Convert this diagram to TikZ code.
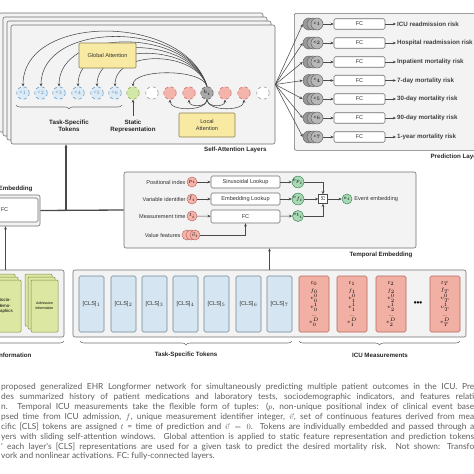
\documentclass[tikz,border=0pt]{standalone}
\usepackage{fontspec}
\setsansfont{Liberation Sans}
\newfontfamily\capfont{Lato}
\usetikzlibrary{arrows.meta,positioning,calc,decorations.pathreplacing}
\definecolor{panelfill}{HTML}{F3F3F3}
\definecolor{paneledge}{HTML}{6F6F6F}
\definecolor{linegray}{HTML}{4A4A4A}
\definecolor{attnyellow}{HTML}{F8EAA2}
\definecolor{attnedge}{HTML}{8C8050}
\definecolor{tokblue}{HTML}{DCEBF5}
\definecolor{tokbluedge}{HTML}{5E8FB5}
\definecolor{statgreen}{HTML}{D3E8A8}
\definecolor{statedge}{HTML}{7FA24A}
\definecolor{evred}{HTML}{F4B4AC}
\definecolor{evrededge}{HTML}{C26B62}
\definecolor{hgray}{HTML}{A8A8A8}
\definecolor{embgreen}{HTML}{A9D9B5}
\definecolor{embedge}{HTML}{3E8A5C}
\definecolor{clsblue}{HTML}{D5E6F2}
\definecolor{clsedge}{HTML}{6F8797}
\definecolor{icured}{HTML}{F2B0A4}
\definecolor{icuedge}{HTML}{B36A5E}
\definecolor{infogreen}{HTML}{DCE7A2}
\definecolor{infoedge}{HTML}{7E8A45}
\definecolor{capgray}{HTML}{5E5E5E}

\begin{document}
\begin{tikzpicture}[x=1pt,y=-1pt,font=\sffamily,>={Stealth[length=3.2pt,width=2.8pt]},
  panel/.style={draw=paneledge,fill=panelfill,line width=0.6pt,rounded corners=2pt,inner sep=0pt},
  lab/.style={font=\sffamily\fontsize{5.6}{6.6}\selectfont,text=black!80},
  head/.style={font=\sffamily\bfseries\fontsize{6.2}{7.2}\selectfont,text=black!85,align=center},
  risk/.style={font=\sffamily\bfseries\fontsize{6.2}{7.2}\selectfont,text=black!75,inner sep=1pt},
  tiny/.style={font=\sffamily\fontsize{4.4}{5}\selectfont},
  conn/.style={draw=linegray,line width=0.55pt},
  trunk/.style={draw=linegray,line width=1.3pt},
  tok/.style={circle,dashed,line width=0.5pt,minimum size=12.5pt,inner sep=0pt,tiny},
  attn/.style={draw=attnedge,fill=attnyellow,line width=0.6pt,rounded corners=1pt,lab,align=center},
  fcbox/.style={draw=paneledge,fill=white,line width=0.6pt,rounded corners=1.5pt,lab,inner sep=0pt},
  pcirc/.style={circle,draw=black!60,fill=black!28,line width=0.5pt,minimum size=12pt,inner sep=0pt,tiny},
  evc/.style={circle,draw=evrededge,fill=evred,line width=0.5pt,minimum size=10pt,inner sep=0pt,tiny},
  embc/.style={circle,draw=embedge,fill=embgreen,line width=0.5pt,minimum size=10pt,inner sep=0pt,tiny},
  sumbox/.style={draw=linegray,fill=white,line width=0.5pt,minimum size=9pt,inner sep=0pt,tiny},
  clsbox/.style={draw=clsedge,fill=clsblue,line width=0.6pt,rounded corners=1.5pt,minimum width=25pt,minimum height=56pt,inner sep=0pt,lab},
  icubox/.style={draw=icuedge,fill=icured,line width=0.6pt,rounded corners=1.5pt,minimum width=30pt,minimum height=56pt,inner sep=0pt,align=center,font=\sffamily\fontsize{4.6}{7.6}\selectfont},
  infobox/.style={draw=infoedge,fill=infogreen,line width=0.5pt,rounded corners=1pt,minimum height=52pt,inner sep=0pt,align=center},
  brc/.style={draw=paneledge,line width=0.6pt,decorate,decoration={brace,amplitude=4pt,mirror}},
  capline/.style={anchor=base west,inner sep=0pt,text=capgray,font=\capfont\fontsize{8.4}{9.9}\selectfont}]

\useasboundingbox (0,0) rectangle (474,474);
\clip (0,0) rectangle (474,474);

% ---- self-attention layers ----
\foreach \k in {3,2,1}
  \draw[panel] (11-4*\k,25-4*\k) rectangle (275-4*\k,144-4*\k);
\node[panel,minimum width=264pt,minimum height=119pt] (sa) at (143,84.5) {};
\node[head,anchor=east] at (270,150) {Self-Attention Layers};

\foreach \n/\x in {1/23,2/41,3/59,4/78,5/97,6/115}
  \node[tok,draw=tokbluedge,fill=tokblue,text=tokbluedge] (c\n) at (\x,93) {$c_{\n}$};
\node[tok,draw=statedge,fill=statgreen] (st) at (133,93) {};
\node[tok,draw=black!45,fill=white] (e1) at (152,93) {};
\node[tok,draw=evrededge,fill=evred] (r1) at (170,93) {};
\node[tok,draw=evrededge,fill=evred] (r2) at (189,93) {};
\node[tok,draw=black!65,fill=hgray] (h) at (207,93) {$h_i$};
\node[tok,draw=evrededge,fill=evred] (r3) at (225,93) {};
\node[tok,draw=evrededge,fill=evred] (r4) at (244,93) {};
\node[tok,draw=black!45,fill=white] (e2) at (263,93) {};

% global attention: h_i to every task token and the static token
\foreach \n/\x in {1/23,2/41,3/59,4/78,5/97,6/115}{
  \pgfmathsetmacro{\kk}{0.4*(207-\x)}
  \pgfmathsetmacro{\dd}{0.3*\kk}
  \draw[conn,->] (h.north) .. controls +(-\dd,-\kk) and +(0,-\kk) .. (c\n.north);
}
\draw[conn,->] (h.north) .. controls +(-4,-18) and +(0,-18) .. (st.north);
\node[attn,minimum width=57pt,minimum height=25pt] (ga) at (107.5,55.5) {Global Attention};

% local attention: neighbours of h_i
\foreach \r/\kk in {r1/12,r2/8,r3/8,r4/12}
  \draw[conn,->] (h.south) .. controls +(0,\kk) and +(0,\kk) .. (\r.south);
\node[attn,minimum width=56pt,minimum height=24pt] (la) at (207,125) {Local\\Attention};

\draw[brc] (16,105) -- (122,105);
\node[head] (tst) at (69,126) {Task-Specific\\Tokens};
\node[head] (srep) at (133,126) {Static\\Representation};
\draw[conn,->] (srep.north) -- (st.south);

% ---- prediction layers ----
\node[panel,minimum width=210pt,minimum height=137pt,anchor=north west] (pl) at (294,13) {};
\node[head,anchor=west] at (427,157) {Prediction Layers};
\foreach \n/\y/\txt in {1/24/ICU readmission risk,2/43/Hospital readmission risk,
    3/62/Inpatient mortality risk,4/80.5/7-day mortality risk,5/99/30-day mortality risk,
    6/118/90-day mortality risk,7/137/1-year mortality risk}{
  \node[pcirc,fill=black!40] (pb\n) at (309,\y) {};
  \node[pcirc,fill=black!34] at (313,\y) {};
  \node[pcirc] (pc\n) at (317,\y) {$c_{\n}$};
  \node[fcbox,minimum width=51pt,minimum height=10.5pt] (pf\n) at (359.5,\y) {FC};
  \node[risk,anchor=west] (pr\n) at (396,\y) {\txt};
  \draw[conn,->] (sa.east) -- (pb\n.west);
  \draw[conn,->] (pc\n) -- (pf\n);
  \draw[conn,->] (pf\n) -- (pr\n);
}

% ---- temporal embedding ----
\node[panel,minimum width=292pt,minimum height=76pt] (te) at (270,210) {};
\node[head,anchor=east] at (416,255) {Temporal Embedding};

\node[evc] (pi) at (192,182) {$p_i$};
\node[evc] (fi) at (192,199) {$f_i$};
\node[evc] (ti) at (192,216) {$t_i$};
\node[evc] (vb2) at (187,235) {};
\node[evc] (vb1) at (191,235) {};
\node[evc] (vv) at (195,235) {$\vec v_i$};
\node[lab,anchor=east,inner sep=1pt] at (pi.west) {Positional index};
\node[lab,anchor=east,inner sep=1pt] at (fi.west) {Variable identifier};
\node[lab,anchor=east,inner sep=1pt] at (ti.west) {Measurement time};
\node[lab,anchor=east,inner sep=1pt] at (vb2.west) {Value features};

\node[fcbox,minimum width=69pt,minimum height=12pt] (sl) at (245.5,182) {Sinusoidal Lookup};
\node[fcbox,minimum width=69pt,minimum height=12pt] (el) at (245.5,199) {Embedding Lookup};
\node[fcbox,minimum width=69pt,minimum height=13pt] (tf) at (245.5,216.5) {FC};
\node[embc] (ep) at (298,182) {$e_{p_i}$};
\node[embc] (ef) at (298,199) {$e_{f_i}$};
\node[embc] (et) at (298,216) {$e_{t_i}$};
\node[sumbox] (sum) at (323,199) {$\Sigma$};
\node[embc] (ei) at (347,199) {$e_i$};
\node[lab,anchor=west,inner sep=2pt] at (ei.east) {Event embedding};

\draw[conn,->] (pi) -- (sl);
\draw[conn,->] (fi) -- (el);
\draw[conn,->] (ti) -- (tf);
\draw[conn,->] (sl) -- (ep);
\draw[conn,->] (el) -- (ef);
\draw[conn,->] (tf) -- (et);
\draw[conn,->] (ef) -- (sum);
\draw[conn,->] (sum) -- (ei);
\draw[conn,->] (ep) -| (sum);
\draw[conn,->] (et) -| (sum);
\draw[conn,->] (vv) -| (tf.south);

% ---- static embedding ----
\node[panel,minimum width=69pt,minimum height=31pt] (se) at (5.5,210.5) {};
\node[fcbox,minimum width=67pt,minimum height=24pt] (sfc) at (4.5,210) {FC};
\node[head,anchor=east] at (36,189) {Static Embedding};

% trunk to the attention stack
\coordinate (jn) at (66,210);
\draw[trunk] (se.east) -- (te.west);
\draw[trunk,->] (jn) -- (jn |- sa.south);

% ---- static information ----
\node[panel,minimum width=110pt,minimum height=67pt] (si) at (9,303.5) {};
\foreach \d in {6,3}{
  \node[infobox,minimum width=33pt] at (4.5-\d,306-\d) {};
  \node[infobox,minimum width=27pt] at (44.5-\d,306-\d) {};
}
\node[infobox,minimum width=33pt,font=\sffamily\fontsize{4.4}{5.4}\selectfont] (socio) at (4.5,306) {Socio-\\demo-\\graphics};
\node[infobox,minimum width=27pt,font=\sffamily\fontsize{3.6}{4.6}\selectfont] (adm) at (44.5,306) {Admission\\information};
\draw[trunk,->] (si.north -| se.south) -- (se.south);
\draw[brc] (-80,341) -- (64,341);
\node[head,anchor=east] at (35,355) {Static Information};

% ---- task tokens and ICU measurements ----
\node[panel,minimum width=393pt,minimum height=67pt] (tk) at (269.5,303.5) {};
\draw[trunk,->] (tk.north) -- (tk.north |- te.south);
\foreach \n/\x in {1/91.5,2/123.5,3/154.5,4/185.5,5/216.5,6/248.5,7/279.5}
  \node[clsbox] (cls\n) at (\x,304) {[CLS]$_{\n}$};
\foreach \n/\x/\s in {1/314/0,2/352/1,3/391/2,4/445/T}
  \node[icubox] (icu\n) at (\x,304) {$t_{\s}$\\$f_{\s}$\\$v_{\s}^{0}$\\$v_{\s}^{1}$\\...\\$v_{\s}^{D}$};
\node[font=\sffamily\bfseries\fontsize{8}{8}\selectfont] (dots) at (418,304) {\textbullet\textbullet\textbullet};

\draw[brc] (80,341) -- (292,341);
\node[head] at (186,355) {Task-Specific Tokens};
\draw[brc] (299,341) -- (460,341);
\node[head] at (380,355) {ICU Measurements};

% ---- caption (cut by the crop) ----
\node[capline] (cap1) at (1,389.6) {\makebox[473pt][s]{proposed generalized EHR Longformer network for simultaneously predicting multiple patient outcomes in the ICU. Pre}};
\node[capline] (cap2) at (1,399.5) {\makebox[473pt][s]{des summarized history of patient medications and laboratory tests, sociodemographic indicators, and features relati}};
\node[capline] (cap3) at (1,409.4) {\makebox[473pt][s]{n. Temporal ICU measurements take the flexible form of tuples: ($p$, non-unique positional index of clinical event base}};
\node[capline] (cap4) at (1,419.3) {\makebox[473pt][s]{psed time from ICU admission, $f$, unique measurement identifier integer, $\vec{v}$, set of continuous features derived from mea}};
\node[capline] (cap5) at (1,429.2) {\makebox[473pt][s]{cific [CLS] tokens are assigned $t$ = time of prediction and $\vec{v} = 0$. Tokens are individually embedded and passed through a}};
\node[capline] (cap6) at (1,439.1) {\makebox[473pt][s]{yers with sliding self-attention windows. Global attention is applied to static feature representation and prediction tokens}};
\node[capline] (cap7) at (1,449.0) {\makebox[473pt][s]{' each layer's [CLS] representations are used for a given task to predict the desired mortality risk. Not shown: Transfo}};
\node[capline] (cap8) at (1,458.9) {vork and nonlinear activations. FC: fully-connected layers.};

\end{tikzpicture}
\end{document}
